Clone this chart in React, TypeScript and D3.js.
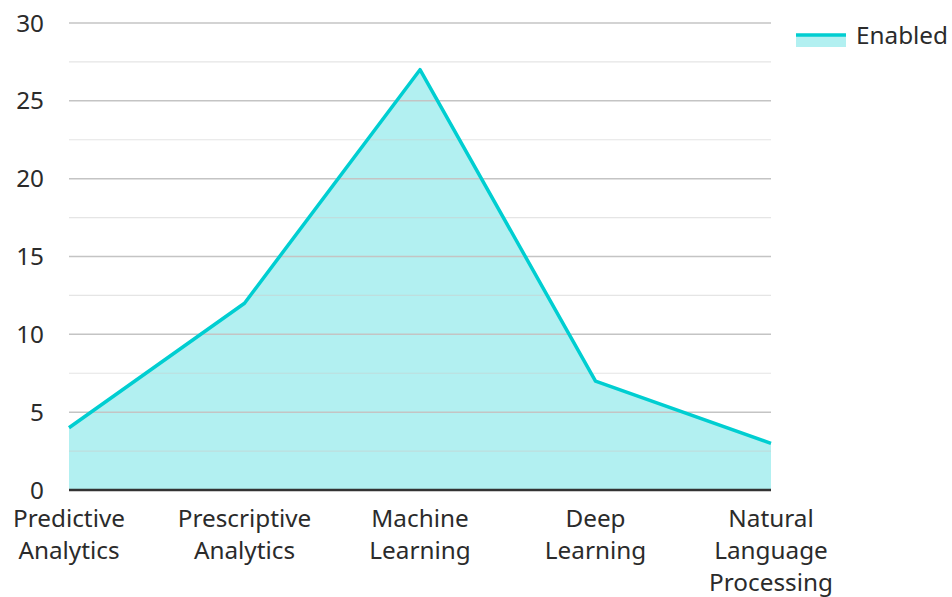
import React from 'react';
import * as d3 from 'd3';

const categories = [
  ['Predictive', 'Analytics'],
  ['Prescriptive', 'Analytics'],
  ['Machine', 'Learning'],
  ['Deep', 'Learning'],
  ['Natural', 'Language', 'Processing'],
];
const enabledValues = [4, 12, 27, 7, 3];
const majorTicks = [0, 5, 10, 15, 20, 25, 30];
const minorTicks = [2.5, 7.5, 12.5, 17.5, 22.5, 27.5];
const seriesName = 'Enabled';

const width = 952;
const height = 597;
const margin = { top: 23, right: 181, bottom: 107, left: 69 };
const font = '"Noto Sans", sans-serif';
const lineColor = '#00CED1';
const fs = 24.3;

export default function App() {
  const idx = categories.map((_, i) => i);
  const x = d3.scalePoint<number>()
    .domain(idx)
    .range([margin.left, width - margin.right]);
  const y = d3.scaleLinear()
    .domain([0, 30])
    .range([height - margin.bottom, margin.top]);

  const area = d3.area<number>()
    .x((_, i) => x(i) ?? 0)
    .y0(y(0))
    .y1(d => y(d));
  const line = d3.line<number>()
    .x((_, i) => x(i) ?? 0)
    .y(d => y(d));

  const x0 = margin.left;
  const x1 = width - margin.right;

  return (
    <svg width={width} height={height} style={{ position: 'absolute', left: 0, top: 0 }}
      fontFamily={font}>
      <rect width={width} height={height} fill="#fff" />
      <path d={area(enabledValues) ?? ''} fill={lineColor} fillOpacity={0.3} />
      {minorTicks.map(t => (
        <line key={'m' + t} x1={x0} x2={x1} y1={y(t)} y2={y(t)} stroke="#cccccc" strokeOpacity={0.5} strokeWidth={1.2} />
      ))}
      {majorTicks.filter(t => t > 0).map(t => (
        <line key={'g' + t} x1={x0} x2={x1} y1={y(t)} y2={y(t)} stroke="#c4c4c4" strokeWidth={1.5} />
      ))}
      <path d={line(enabledValues) ?? ''} fill="none" stroke={lineColor} strokeWidth={3.5} strokeLinejoin="round" />
      <line x1={x0} x2={x1} y1={y(0)} y2={y(0)} stroke="#333" strokeWidth={2.5} />
      {majorTicks.map(t => (
        <text key={'t' + t} x={44} y={y(t) + 8.5} textAnchor="end" fontSize={fs} fill="#2b2b2b">{t}</text>
      ))}
      {categories.map((lines, i) => (
        <text key={'c' + i} x={x(i)} textAnchor="middle" fontSize={fs} fill="#2b2b2b">
          {lines.map((l, j) => (
            <tspan key={j} x={x(i)} y={527 + j * 32}>{l}</tspan>
          ))}
        </text>
      ))}
      <g>
        <rect x={796} y={35} width={50} height={12} fill={lineColor} fillOpacity={0.3} />
        <line x1={796} x2={846} y1={35} y2={35} stroke={lineColor} strokeWidth={3.5} />
        <text x={856} y={44} fontSize={fs} fill="#2b2b2b">{seriesName}</text>
      </g>
    </svg>
  );
}
